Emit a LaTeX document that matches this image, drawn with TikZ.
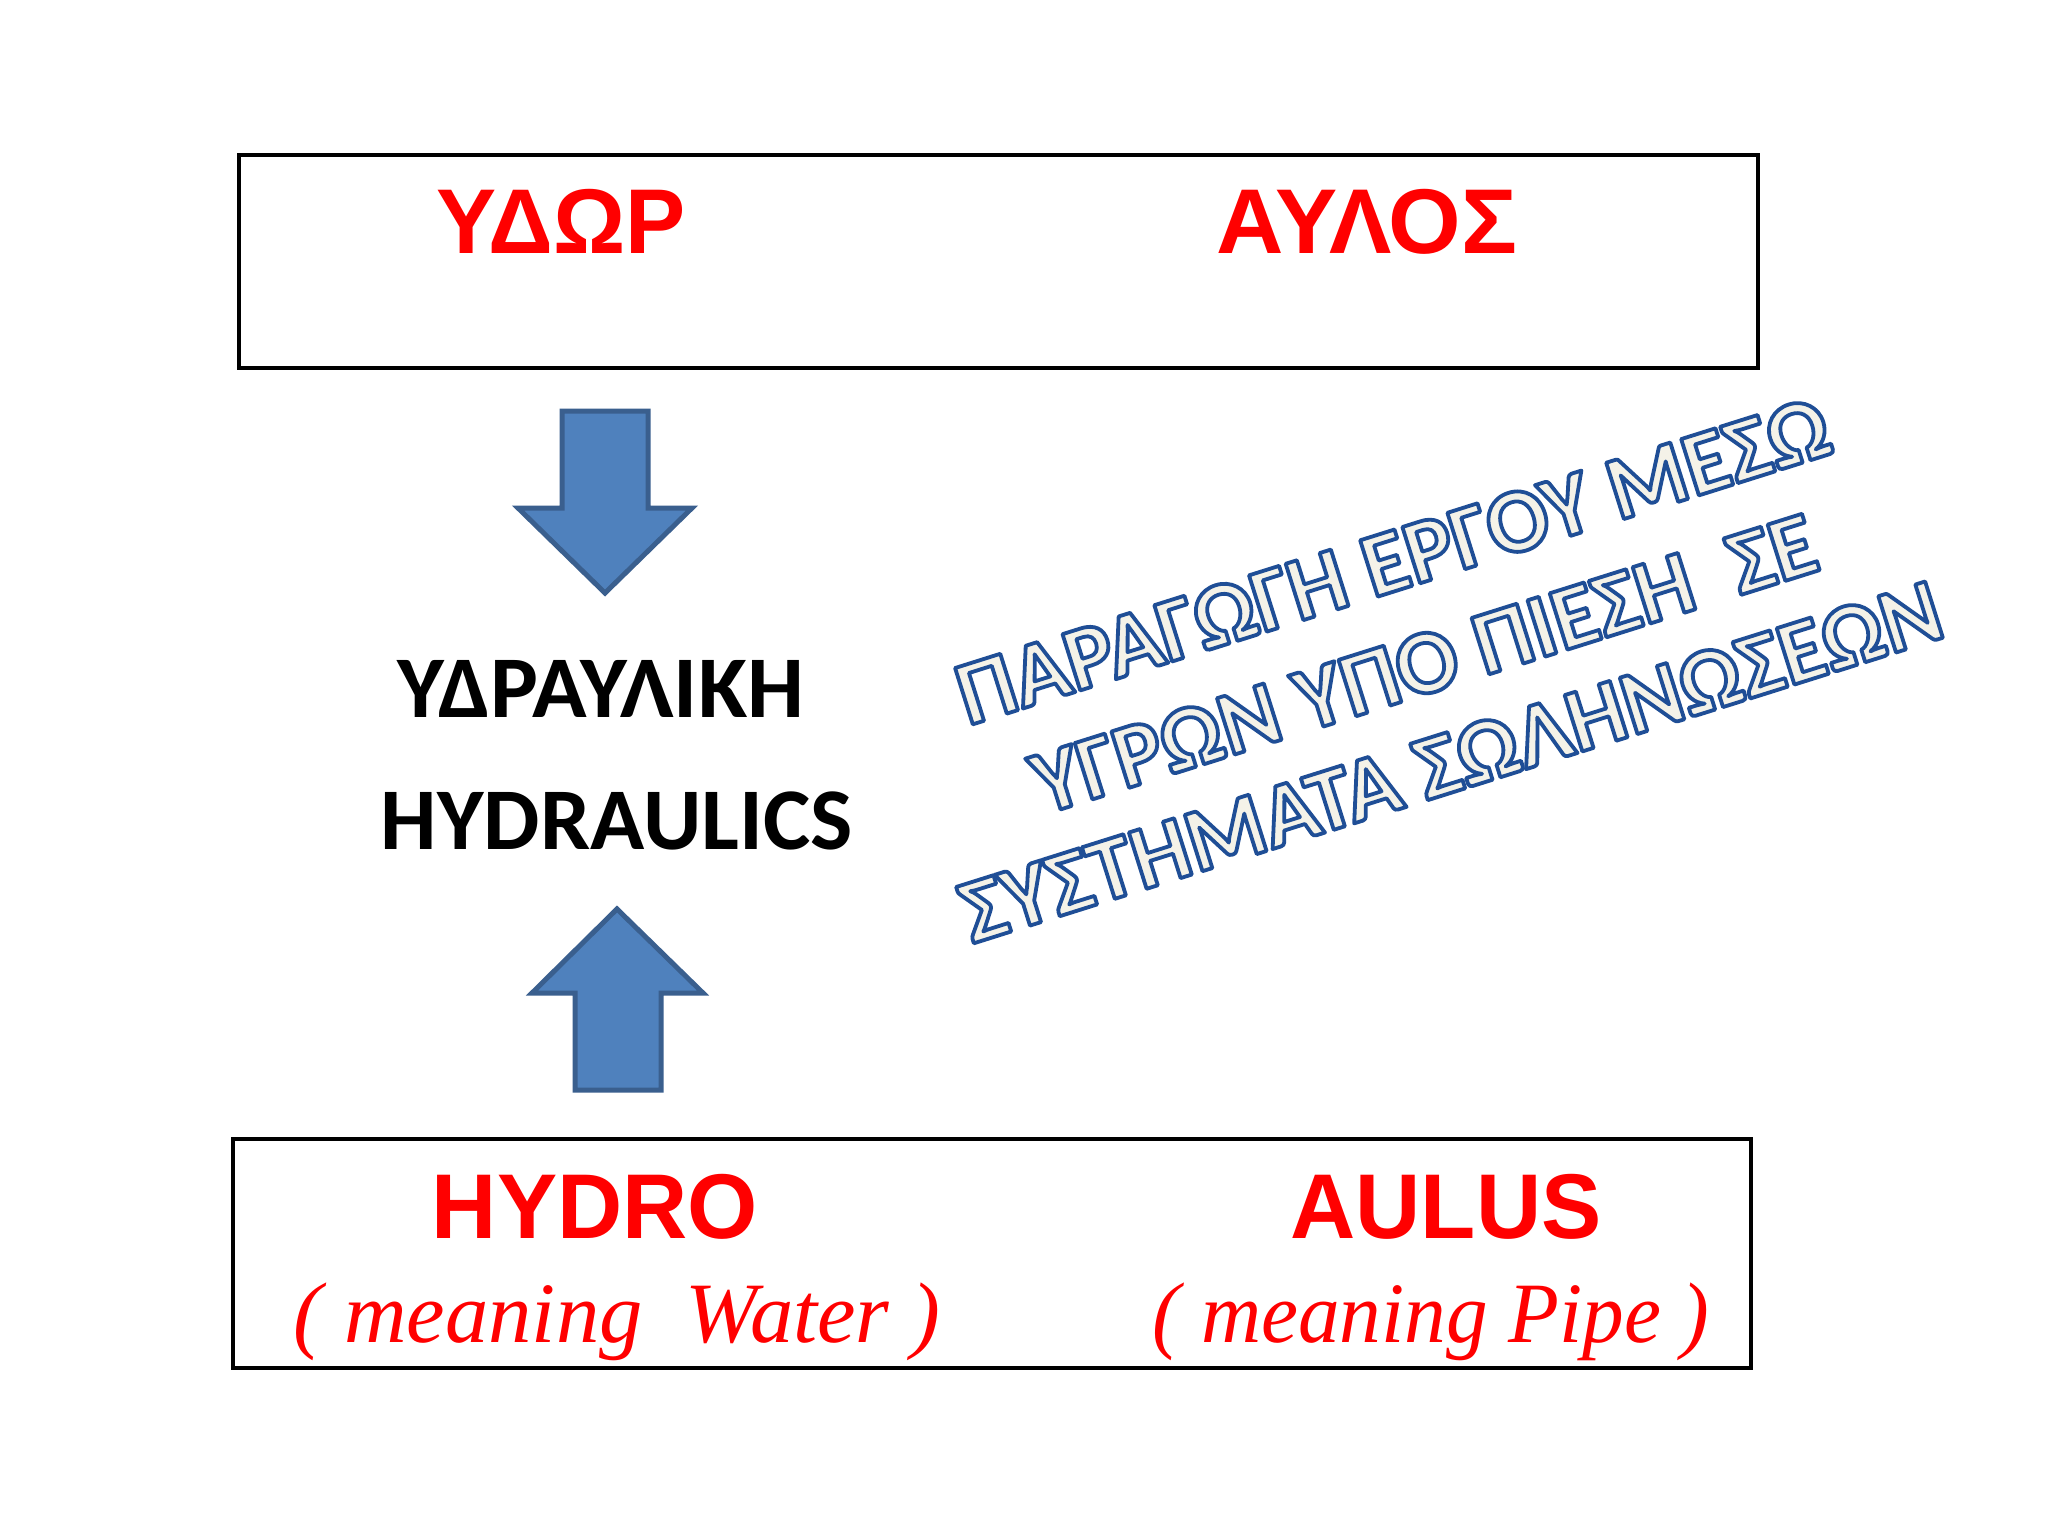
\documentclass[tikz,border=0pt]{standalone}
\usepackage{fontspec}
\usepackage{graphicx}
\setmainfont{Liberation Sans}
\newfontfamily\arialf{Liberation Sans}
\newfontfamily\calib{Carlito}
\newfontfamily\serifit{Liberation Serif}
\definecolor{redtxt}{HTML}{FF0000}
\definecolor{arrfill}{HTML}{4F81BD}
\definecolor{arrline}{HTML}{3A5F8E}
\definecolor{outblue}{HTML}{1F4E96}
\definecolor{cream}{HTML}{F4F2E8}
\newcommand\fitw[2]{\resizebox{#1}{\height}{#2}}
\newcommand\outlined[1]{{\color{cream}\special{pdf:literal direct 2 Tr 3.8 w 1 j 0.122 0.306 0.588 RG}#1\special{pdf:literal direct 0 Tr}}}
\tikzset{
  frame/.style={draw=black,line width=3.5pt},
  blockarrow/.style={fill=arrfill,draw=arrline,line width=5pt,line join=miter},
  lbl/.style={inner sep=0pt,anchor=base},
  redbig/.style={lbl,text=redtxt,font=\arialf\bfseries\fontsize{92}{100}\selectfont},
  blackbig/.style={lbl,text=black,font=\calib\bfseries\fontsize{88}{100}\selectfont},
  meaningtxt/.style={lbl,text=redtxt,font=\serifit\itshape\fontsize{86}{96}\selectfont},
  slanted/.style={lbl,rotate=17.5,font=\calib\bfseries\fontsize{91}{100}\selectfont}
}
\begin{document}
\begin{tikzpicture}[x=1pt,y=-1pt]
\useasboundingbox (0,0) rectangle (2048,1536);
\fill[white] (0,0) rectangle (2048,1536);
% boxes
\draw[frame] (239,155) rectangle (1758,368);
\draw[frame] (233,1139) rectangle (1751,1368);
% top words
\node[redbig] (ydor) at (561,253) {\fitw{249pt}{ΥΔΩΡ}};
\node[redbig] (avlos) at (1367,253) {\fitw{301pt}{ΑΥΛΟΣ}};
% arrows
\draw[blockarrow] (562,411) -- (648,411) -- (648,508) -- (692,508) -- (605,593) -- (518,508) -- (562,508) -- cycle;
\draw[blockarrow] (575,1090) -- (661,1090) -- (661,993) -- (703,993) -- (617,909) -- (532,993) -- (575,993) -- cycle;
% centre words
\node[blackbig] (ydr) at (601,717) {\fitw{406pt}{ΥΔΡΑΥΛΙΚΗ}};
\node[blackbig] (hydr) at (617,849) {\fitw{472pt}{HYDRAULICS}};
% bottom words
\node[redbig] (hydro) at (595,1238) {\fitw{326pt}{HYDRO}};
\node[redbig] (aulus) at (1446,1238) {\fitw{311pt}{AULUS}};
\node[meaningtxt] (mw) at (617,1342) {\fitw{646pt}{( meaning\ \ Water )}};
\node[meaningtxt] (mp) at (1431,1342) {\fitw{557pt}{( meaning Pipe )}};
% slanted outlined text
\node[slanted] (s1) at (1402,589) {\outlined{ΠΑΡΑΓΩΓΗ ΕΡΓΟΥ ΜΕΣΩ}};
\node[slanted] (s2) at (1433,692) {\outlined{ΥΓΡΩΝ ΥΠΟ ΠΙΕΣΗ\ \ ΣΕ}};
\node[slanted] (s3) at (1460,790) {\outlined{ΣΥΣΤΗΜΑΤΑ ΣΩΛΗΝΩΣΕΩΝ}};
\end{tikzpicture}
\end{document}
